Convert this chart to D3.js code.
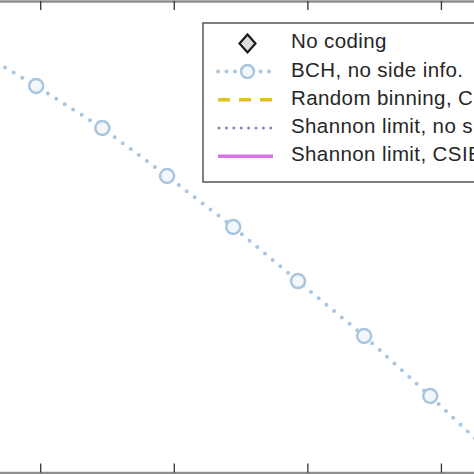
<!DOCTYPE html>
<html>
<head>
<meta charset="utf-8">
<script src="https://cdn.jsdelivr.net/npm/d3@7"></script>
<style>
  html, body { margin: 0; padding: 0; background: #fff; }
  svg { display: block; }
</style>
</head>
<body>
<svg id="ber-chart" width="474" height="474"></svg>
<script>
// data (SNR in dB, BER)
const xTicks = [0, 2, 4, 6];
const bchSnr = [-1.04, -0.06, 0.93, 1.90, 2.89, 3.86, 4.85, 5.84, 6.82];
const bchBer = [0.26, 0.0828, 0.0242, 0.00593, 0.00133, 2.73e-4, 5.46e-5, 9.4e-6, 1.53e-6];
const legendLabels = [
    "No coding",
    "BCH, no side info.",
    "Random binning, CSIE",
    "Shannon limit, no side info.",
    "Shannon limit, CSIE"
];

// SVG 및 영역 설정
const svg = d3.select("#ber-chart");
const plot = { left: -60, right: 481, top: 1, bottom: 472.5 };

const xScale = d3.scaleLinear().domain([-1.5, 6.6]).range([plot.left, plot.right]);
const yScale = d3.scaleLog().domain([1e-6, 1]).range([plot.bottom, plot.top]);

// clip
svg.append("clipPath").attr("id", "clip")
    .append("rect")
    .attr("x", plot.left).attr("y", plot.top)
    .attr("width", plot.right - plot.left).attr("height", plot.bottom - plot.top);

// BCH curve
const bch = bchSnr.map((x, i) => ({ x: x, y: bchBer[i] }));
const bchColor = "#a9c6e0";

const line = d3.line().x(d => xScale(d.x)).y(d => yScale(d.y));
const g = svg.append("g").attr("clip-path", "url(#clip)");

g.append("path")
    .datum(bch)
    .attr("d", line)
    .attr("fill", "none")
    .attr("stroke", bchColor)
    .attr("stroke-width", 4)
    .attr("stroke-linecap", "round")
    .attr("stroke-dasharray", "0 10");

g.selectAll(".bch-marker")
    .data(bch)
    .enter()
    .append("circle")
    .attr("class", "bch-marker")
    .attr("cx", d => xScale(d.x))
    .attr("cy", d => yScale(d.y))
    .attr("r", 7)
    .attr("fill", "#f3f7fb")
    .attr("stroke", bchColor)
    .attr("stroke-width", 2.5);

// axes: ticks only, labels are out of frame
const bottomAxis = svg.append("g")
    .attr("transform", `translate(0,${plot.bottom})`)
    .call(d3.axisBottom(xScale).tickValues(xTicks).tickSize(-9).tickSizeOuter(0).tickFormat(""));
const topAxis = svg.append("g")
    .attr("transform", `translate(0,${plot.top})`)
    .call(d3.axisTop(xScale).tickValues(xTicks).tickSize(-9).tickSizeOuter(0).tickFormat(""));

[bottomAxis, topAxis].forEach(ax => {
    ax.select(".domain").attr("stroke", "#8e8e8e").attr("stroke-width", 2.5);
    ax.selectAll(".tick line").attr("stroke", "#333").attr("stroke-width", 1.3);
});

// 범례
const legend = svg.append("g");
legend.append("rect")
    .attr("x", 203).attr("y", 23)
    .attr("width", 320).attr("height", 159)
    .attr("fill", "#fff")
    .attr("stroke", "#555")
    .attr("stroke-width", 1.5);

const rowY = i => 43.4 + i * 28.2;
const sx0 = 218, sx1 = 273, sxm = 247.5;

// No coding
legend.append("path")
    .attr("d", `M${sxm},${rowY(0) - 9}L${sxm + 8},${rowY(0)}L${sxm},${rowY(0) + 9}L${sxm - 8},${rowY(0)}Z`)
    .attr("fill", "#dcdcdc")
    .attr("stroke", "#1a1a1a")
    .attr("stroke-width", 2.2);

// BCH
legend.append("line")
    .attr("x1", sx0).attr("x2", sx1).attr("y1", rowY(1)).attr("y2", rowY(1))
    .attr("stroke", bchColor).attr("stroke-width", 4)
    .attr("stroke-linecap", "round").attr("stroke-dasharray", "0 8.5");
legend.append("circle")
    .attr("cx", sxm).attr("cy", rowY(1)).attr("r", 6.5)
    .attr("fill", "#f3f7fb").attr("stroke", bchColor).attr("stroke-width", 2.5);

// Random binning
legend.append("line")
    .attr("x1", sx0).attr("x2", sx1).attr("y1", rowY(2)).attr("y2", rowY(2))
    .attr("stroke", "#dcc21a").attr("stroke-width", 3.5)
    .attr("stroke-dasharray", "12 9");

// Shannon no side info
legend.append("line")
    .attr("x1", sx0 + 1).attr("x2", sx1).attr("y1", rowY(3)).attr("y2", rowY(3))
    .attr("stroke", "#7f87c4").attr("stroke-width", 3)
    .attr("stroke-linecap", "round").attr("stroke-dasharray", "0 7.4");

// Shannon CSIE
legend.append("line")
    .attr("x1", sx0).attr("x2", sx1).attr("y1", rowY(4)).attr("y2", rowY(4))
    .attr("stroke", "#d671e6").attr("stroke-width", 3.5);

legend.selectAll(".legend-text")
    .data(legendLabels)
    .enter()
    .append("text")
    .attr("class", "legend-text")
    .attr("x", 291)
    .attr("y", (d, i) => rowY(i) + 5)
    .attr("fill", "#262626")
    .style("font-family", "'Liberation Sans', Arial, Helvetica, sans-serif")
    .style("font-size", "20.5px")
    .style("letter-spacing", "0.4px")
    .text(d => d);
</script>
</body>
</html>
